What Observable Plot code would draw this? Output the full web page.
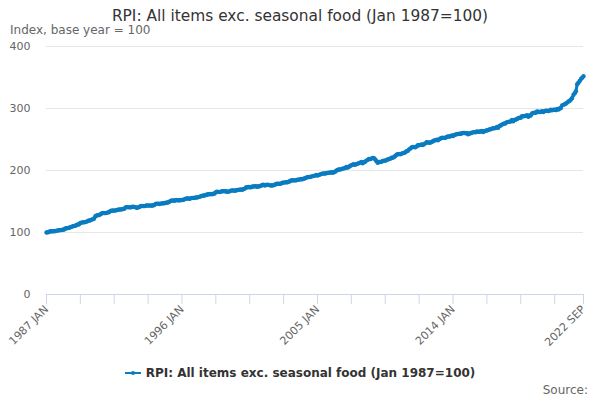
<!DOCTYPE html>
<html>
<head>
<meta charset="utf-8">
<script src="https://cdn.jsdelivr.net/npm/d3@7"></script>
<script src="https://cdn.jsdelivr.net/npm/@observablehq/plot@0.6"></script>
<style>
  html, body { margin: 0; padding: 0; background: #fff; }
  #wrap { position: relative; width: 600px; height: 400px; font-family: "DejaVu Sans", sans-serif; overflow: hidden; }
  #chart { position: absolute; left: 0; top: 0; }
  .title { position: absolute; left: 0; width: 600px; top: 7px; text-align: center; font-size: 15.4px; color: #333; }
  .subtitle { position: absolute; left: 10px; top: 23px; font-size: 12px; color: #666; }
  .legend { position: absolute; left: 0; width: 600px; top: 366px; text-align: center; font-size: 12px; font-weight: bold; color: #333; }
  .legend svg { vertical-align: middle; margin-right: 5px; position: relative; top: -1px; }
  .source { position: absolute; right: 12px; top: 383px; font-size: 12px; color: #666; }
</style>
</head>
<body>
<div id="wrap">
  <div id="chart"></div>
  <div class="title" id="title"></div>
  <div class="subtitle" id="subtitle"></div>
  <div class="legend" id="legend"></div>
  <div class="source" id="source"></div>
</div>
<script>
const titleText = "RPI: All items exc. seasonal food (Jan 1987=100)";
const subtitleText = "Index, base year = 100";
const seriesName = "RPI: All items exc. seasonal food (Jan 1987=100)";
const sourceText = "Source:";
const lineColor = "#0a7cc1";

const startYear = 1987;
const startMonth = 0; // January
const monthNames = ["JAN","FEB","MAR","APR","MAY","JUN","JUL","AUG","SEP","OCT","NOV","DEC"];

// Monthly index values, Jan 1987 to Sep 2022
const values = [
  100.0,100.4,100.7,101.9,102.1,102.1,102.0,102.4,102.7,103.3,103.8,103.8, // 1987
  104.0,104.4,104.8,106.5,106.9,107.3,107.4,108.6,109.1,110.2,110.7,111.0, // 1988
  112.0,112.8,113.3,115.3,116.0,116.4,116.5,116.8,117.6,118.5,119.5,119.8, // 1989
  120.8,121.5,122.7,126.4,127.5,128.0,128.1,129.4,130.6,131.6,131.3,131.2, // 1990
  131.7,132.4,132.9,134.6,135.0,135.6,135.3,135.6,136.1,136.6,137.1,137.2, // 1991
  137.3,138.0,138.4,140.5,141.0,141.0,140.5,140.6,141.1,141.6,141.4,140.9, // 1992
  139.7,140.6,141.1,142.4,142.9,142.8,142.5,143.1,143.7,143.6,143.4,143.7, // 1993
  143.2,144.0,144.4,146.1,146.6,146.6,145.9,146.6,146.9,147.1,147.2,147.9, // 1994
  148.0,148.9,149.5,151.0,151.6,151.8,151.1,151.9,152.6,151.8,151.8,152.7, // 1995
  152.2,152.9,153.5,154.6,154.9,155.0,154.4,155.1,155.8,155.8,155.9,156.4, // 1996
  156.5,157.1,157.5,158.4,159.0,159.6,159.6,160.6,161.4,161.6,161.7,162.1, // 1997
  161.7,162.5,163.0,164.8,165.7,165.6,165.2,165.9,166.6,166.7,166.6,166.6, // 1998
  165.7,166.0,166.4,167.5,167.9,167.9,167.4,167.8,168.5,168.8,169.0,169.6, // 1999
  169.0,169.9,170.8,172.5,173.1,173.5,172.9,172.9,174.1,174.0,174.5,174.6, // 2000
  173.6,174.5,174.7,175.6,176.7,176.9,175.8,176.5,177.1,176.8,176.1,175.9, // 2001
  175.9,176.4,177.1,178.3,178.8,178.8,178.5,179.0,180.2,180.5,180.8,181.1, // 2002
  181.1,182.0,182.6,183.9,184.2,184.0,184.0,184.3,185.2,185.3,185.4,186.2, // 2003
  185.9,186.6,187.4,188.5,189.3,189.6,189.6,190.2,190.9,191.4,191.8,192.7, // 2004
  191.9,192.6,193.5,194.6,195.0,195.2,195.2,195.6,196.1,196.3,196.6,197.1, // 2005
  196.4,197.2,198.0,199.5,200.7,201.5,201.5,202.2,203.1,203.4,204.1,205.7, // 2006
  204.6,206.1,207.4,208.4,209.2,210.3,209.1,210.3,211.0,211.9,212.7,213.9, // 2007
  211.8,213.4,214.1,216.0,217.1,218.8,218.5,219.2,220.4,219.7,218.0,214.9, // 2008
  212.6,213.9,213.8,214.0,215.3,215.9,215.9,216.9,217.8,218.5,219.1,220.5, // 2009
  220.6,221.9,223.4,225.5,226.3,226.8,226.3,227.2,228.0,228.5,229.5,231.1, // 2010
  231.8,234.1,235.3,237.2,238.0,238.0,237.5,238.9,240.7,240.8,241.3,242.2, // 2011
  241.0,242.9,243.8,245.5,245.4,244.8,245.1,246.0,247.2,248.6,248.6,249.8, // 2012
  248.8,250.6,251.7,252.5,253.0,252.7,252.7,254.0,254.9,254.9,255.1,256.4, // 2013
  255.6,257.2,257.8,258.7,258.9,259.3,259.0,260.0,260.6,260.7,260.1,260.5, // 2014
  258.4,259.7,260.1,261.0,261.5,261.9,261.6,262.8,262.6,262.5,262.8,263.6, // 2015
  262.0,263.2,264.3,264.6,265.3,266.3,266.6,267.6,268.1,268.0,268.7,270.3, // 2016
  268.9,271.8,272.7,274.0,275.1,275.7,276.3,278.1,278.5,278.7,279.2,281.5, // 2017
  279.5,281.6,281.8,283.2,284.2,285.0,285.2,287.7,287.6,288.0,288.1,289.1, // 2018
  286.7,288.7,288.8,291.9,292.9,293.3,293.2,295.4,294.7,294.1,294.7,295.6, // 2019
  294.4,295.8,296.4,296.4,296.0,296.5,298.0,297.1,298.1,298.1,297.3,299.2, // 2020
  298.3,300.0,300.9,305.1,305.9,307.0,308.0,309.5,311.4,312.6,314.6,316.9, // 2021
  322.1,324.6,327.9,339.0,341.5,344.4,347.6,349.6,352.0                    // 2022
];

const yTicks = [0, 100, 200, 300, 400];
const xTickStep = 27; // months between x-axis tick marks
const xLabelEvery = 4; // a label on every 4th tick, plus the last category

const data = values.map((v, i) => ({
  date: new Date(Date.UTC(startYear, startMonth + i, 1)),
  value: v
}));
const n = data.length;
const catLabel = d => `${d.getUTCFullYear()} ${monthNames[d.getUTCMonth()]}`;

const tickIdx = [];
for (let i = 0; i < n; i += xTickStep) tickIdx.push(i);
if (tickIdx[tickIdx.length - 1] !== n - 1) tickIdx.push(n - 1);
const tickDates = tickIdx.map(i => data[i].date);
const labelled = new Set(tickIdx.filter((i, k) => k % xLabelEvery === 0 || i === n - 1).map(i => +data[i].date));

const chart = Plot.plot({
  width: 600,
  height: 400,
  marginTop: 46,
  marginBottom: 106,
  marginLeft: 46,
  marginRight: 17,
  style: { fontFamily: "DejaVu Sans, sans-serif", fontSize: "11px", color: "#666", background: "transparent" },
  x: { type: "utc", domain: [data[0].date, data[n - 1].date] },
  y: { domain: [0, 400] },
  marks: [
    Plot.gridY(yTicks.filter(t => t > 0), { stroke: "#e6e6e6", strokeOpacity: 1 }),
    Plot.ruleY([0], { stroke: "#ccd6eb" }),
    Plot.axisY(yTicks, { tickSize: 0, tickPadding: 16, fill: "#666", fontSize: 11, label: null }),
    Plot.axisX(tickDates, {
      tickSize: 10,
      stroke: "#ccd6eb",
      tickPadding: 3,
      tickRotate: -45,
      fill: "#666",
      fontSize: 11,
      label: null,
      tickFormat: d => labelled.has(+d) ? catLabel(d) : ""
    }),
    Plot.line(data, { x: "date", y: "value", stroke: lineColor, strokeWidth: 3 }),
    Plot.dot(data, { x: "date", y: "value", r: 2.2, fill: lineColor, stroke: "none" })
  ]
});
document.getElementById("chart").appendChild(chart);

document.getElementById("title").textContent = titleText;
document.getElementById("subtitle").textContent = subtitleText;
document.getElementById("source").textContent = sourceText;
const lg = document.getElementById("legend");
lg.innerHTML = `<svg width="16" height="10"><line x1="0" y1="5" x2="16" y2="5" stroke="${lineColor}" stroke-width="2"/><circle cx="8" cy="5" r="2" fill="${lineColor}"/></svg>`;
lg.appendChild(document.createTextNode(seriesName));
</script>
</body>
</html>
